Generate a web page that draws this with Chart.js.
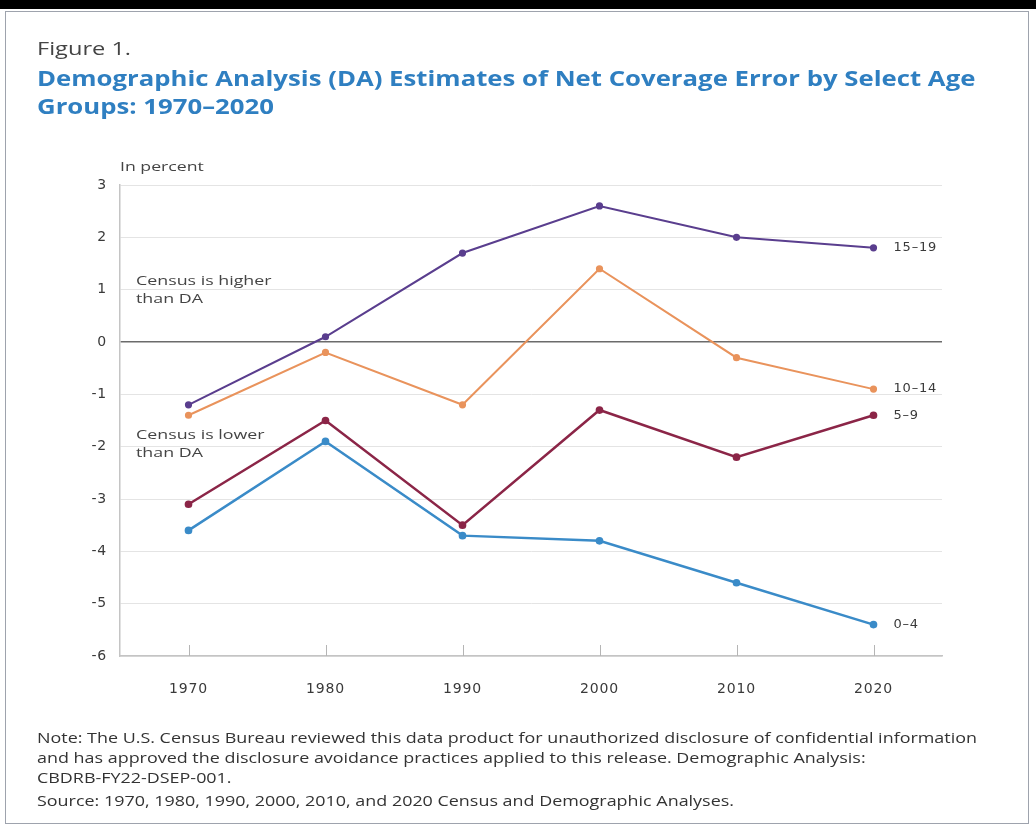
<!DOCTYPE html>
<html><head><meta charset="utf-8">
<script src="https://cdn.jsdelivr.net/npm/chart.js@4.4.0/dist/chart.umd.min.js"></script>
<style>
html,body{margin:0;padding:0;background:#fff;width:1036px;height:834px;overflow:hidden;font-family:"Open Sans",sans-serif;}
#topband{position:absolute;left:0;top:0;width:1036px;height:9px;background:#000;}
#panel{position:absolute;left:5px;top:11px;width:1024px;height:813px;border:1.5px solid #9ea3ad;box-sizing:border-box;}
#wrap{position:absolute;left:0;top:0;width:1036px;height:834px;}
.t{position:absolute;white-space:nowrap;transform-origin:0 0;}
#fig{left:37px;top:36px;font-size:18px;color:#444;transform:scaleX(1.31);}
#title{left:37px;top:64px;font-size:21px;font-weight:700;color:#2f7fc1;line-height:28px;transform:scaleX(1.226);}
#unit{left:120px;top:157px;font-size:13px;color:#444;transform:scaleX(1.36);}
.ann{font-size:13px;color:#444;line-height:18px;transform:scaleX(1.37);}
#note{left:37px;top:728px;font-size:14px;color:#333;line-height:20px;transform:scaleX(1.28);}
</style></head>
<body>
<div id="topband"></div>
<div id="panel"></div>
<div id="wrap"><canvas id="c" width="1036" height="834"></canvas></div>
<div class="t" id="fig">Figure 1.</div>
<div class="t" id="title">Demographic Analysis (DA) Estimates of Net Coverage Error by Select Age<br>Groups: 1970–2020</div>
<div class="t" id="unit">In percent</div>
<div class="t ann" style="left:136px;top:271px;">Census is higher<br>than DA</div>
<div class="t ann" style="left:136px;top:425px;">Census is lower<br>than DA</div>
<div class="t" id="note">Note: The U.S. Census Bureau reviewed this data product for unauthorized disclosure of confidential information<br>and has approved the disclosure avoidance practices applied to this release. Demographic Analysis:<br>CBDRB-FY22-DSEP-001.<br><span style="display:inline-block;margin-top:3px">Source: 1970, 1980, 1990, 2000, 2010, and 2020 Census and Demographic Analyses.</span></div>
<script>
const years = ["1970","1980","1990","2000","2010","2020"];
const age15_19 = [-1.2, 0.1, 1.7, 2.6, 2.0, 1.8];
const age10_14 = [-1.4, -0.2, -1.2, 1.4, -0.3, -0.9];
const age5_9 = [-3.1, -1.5, -3.5, -1.3, -2.2, -1.4];
const age0_4 = [-3.6, -1.9, -3.7, -3.8, -4.6, -5.4];
const seriesLabels = ["15–19","10–14","5–9","0–4"];
const yTicks = [3,2,1,0,-1,-2,-3,-4,-5,-6];

const colors = ["#5a3e8e","#e9935c","#8b2547","#3a8bc8"];
const widths = [2,2,2.5,2.5];
const data = [age15_19, age10_14, age5_9, age0_4];
const FONT = '"DejaVu Sans", sans-serif';
const LS = '0.8px';

const spacing = {
  id:'spacing',
  beforeInit(chart){ chart.ctx.letterSpacing = LS; },
  beforeUpdate(chart){ chart.ctx.letterSpacing = LS; },
  beforeDraw(chart){ chart.ctx.letterSpacing = LS; }
};
const endLabels = {
  id:'endLabels',
  afterDatasetsDraw(chart){
    const ctx = chart.ctx;
    ctx.save();
    ctx.font = '13px ' + FONT;
    ctx.fillStyle = '#3a3a3a';
    ctx.textBaseline = 'middle';
    chart.data.datasets.forEach((ds,i)=>{
      const meta = chart.getDatasetMeta(i);
      const p = meta.data[meta.data.length-1];
      ctx.fillText(ds.label, p.x+20, p.y);
    });
    ctx.restore();
  }
};
const xTickMarks = {
  id:'xTickMarks',
  afterDraw(chart){
    const ctx = chart.ctx, xs = chart.scales.x, ys = chart.scales.y;
    const yb = ys.getPixelForValue(-6);
    ctx.save();
    ctx.strokeStyle = '#b5b5b5';
    ctx.lineWidth = 1;
    years.forEach((y,i)=>{
      const x = Math.round(xs.getPixelForValue(i))+0.5;
      ctx.beginPath(); ctx.moveTo(x,yb); ctx.lineTo(x,yb-11); ctx.stroke();
    });
    ctx.restore();
  }
};

new Chart(document.getElementById('c'), {
  type:'line',
  data:{
    labels: years,
    datasets: data.map((d,i)=>({
      label: seriesLabels[i], data: d,
      borderColor: colors[i], backgroundColor: colors[i],
      borderWidth: widths[i], pointRadius: 2.6, pointHoverRadius:2.6,
      tension: 0
    }))
  },
  options:{
    responsive:false, animation:false,
    layout:{padding:{left:40,right:94,top:185,bottom:128}},
    plugins:{legend:{display:false}, tooltip:{enabled:false}},
    scales:{
      x:{
        type:'category', offset:true,
        grid:{display:true, color:'rgba(0,0,0,0)', drawTicks:false},
        border:{display:true, color:'#c4c4c4', width:1.5},
        ticks:{padding:25, color:'#3a3a3a', font:{family:FONT, size:14}},
        afterFit(s){ s.height = 50; }
      },
      y:{
        min:-6, max:3,
        afterBuildTicks(s){ s.ticks = yTicks.map(v=>({value:v})); },
        grid:{drawTicks:false, color:(c)=> c.tick && c.tick.value===0 ? '#6b6b6b' : '#e4e4e4', lineWidth:(c)=> c.tick && c.tick.value===0 ? 1.5 : 1},
        border:{display:true, color:'#c4c4c4', width:1.5},
        ticks:{padding:13, color:'#3a3a3a', font:{family:FONT, size:14}},
        afterFit(s){ s.width = 80; }
      }
    }
  },
  plugins:[spacing, endLabels, xTickMarks]
});
</script>
</body></html>
